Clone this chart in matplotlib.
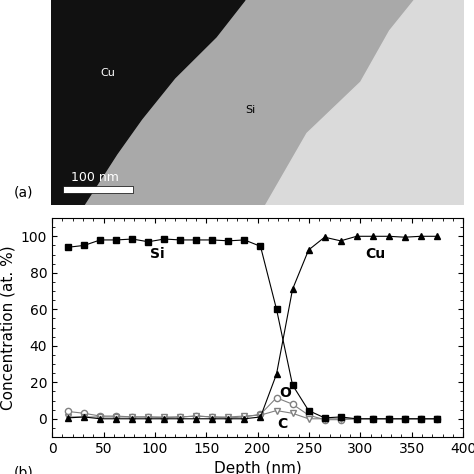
import matplotlib
matplotlib.use("Agg")
import matplotlib.pyplot as plt
import numpy as np
from matplotlib.patches import Polygon, Rectangle

depth = [15.6*i for i in range(1, 25)]
si = [94,95,98,98,98.5,97,98.5,98,98,98,97.5,98,94.5,60,18.5,4.5,0.5,1,0,0,0,0,0,0]
cu = [0.5,1,0,0,0,0,0,0,0,0,0,0,1,24.5,71,92.5,99.5,97.5,100,100,100,99.5,100,100]
o = [4,3,1.5,1.5,1,1,0.5,1,1.5,1,0.5,1,2.5,11.5,8,2,-0.5,-0.5,0,0,0,0,0,0]
c = [1,1,1,1,1,1,1,1,1.5,1,1,1.5,2,4.5,3,0,0,0,0,0,0,0,0,0]

fig = plt.figure(figsize=(4.74, 4.74), dpi=100)
# TEM image panel (schematic)
ax0 = fig.add_axes([0.107, 0.567, 0.872, 0.433])
ax0.set_xlim(0, 1); ax0.set_ylim(0, 1); ax0.axis('off')
ax0.add_patch(Rectangle((0, 0), 1, 1, color='#a9a9a9'))
ax0.add_patch(Polygon([(0.88,1),(1,1),(1,0),(0.52,0),(0.62,0.35),(0.75,0.6),(0.82,0.85)], color='#dadada'))
ax0.add_patch(Polygon([(0,1),(0.47,1),(0.40,0.82),(0.30,0.62),(0.22,0.42),(0.16,0.25),(0.08,0),(0,0)], color='#111111'))
ax0.text(0.12, 0.63, 'Cu', color='white', fontsize=8)
ax0.text(0.47, 0.45, 'Si', color='black', fontsize=8)
ax0.text(0.05, 0.12, '100 nm', color='white', fontsize=9)
ax0.add_patch(Rectangle((0.03, 0.06), 0.17, 0.035, facecolor='white', edgecolor='black', lw=0.5))
fig.text(0.03, 0.585, '(a)', fontsize=10)

ax = fig.add_axes([0.11, 0.078, 0.867, 0.462])
ms = 4.5
ax.plot(depth, o, '-o', color='gray', mfc='white', mec='gray', ms=ms, lw=0.8)
ax.plot(depth, c, '-v', color='gray', mfc='white', mec='gray', ms=ms, lw=0.8)
ax.plot(depth, si, '-s', color='black', ms=ms, lw=0.8)
ax.plot(depth, cu, '-^', color='black', ms=ms, lw=0.8)
ax.set_xlim(0, 400); ax.set_ylim(-10, 110)
ax.set_xticks(range(0, 401, 50)); ax.set_yticks(range(0, 101, 20))
ax.minorticks_on()
ax.tick_params(which='both', direction='in', top=True, right=True, labelsize=10)
ax.set_xlabel('Depth (nm)', fontsize=11)
ax.set_ylabel('Concentration (at. %)', fontsize=11)
ax.text(95, 88, 'Si', fontsize=10, fontweight='bold')
ax.text(305, 88, 'Cu', fontsize=10, fontweight='bold')
ax.text(221, 12, 'O', fontsize=10, fontweight='bold')
ax.text(219, -5, 'C', fontsize=10, fontweight='bold')
fig.text(0.03, -0.005, '(b)', fontsize=10)
fig.savefig('out.png', dpi=100)
